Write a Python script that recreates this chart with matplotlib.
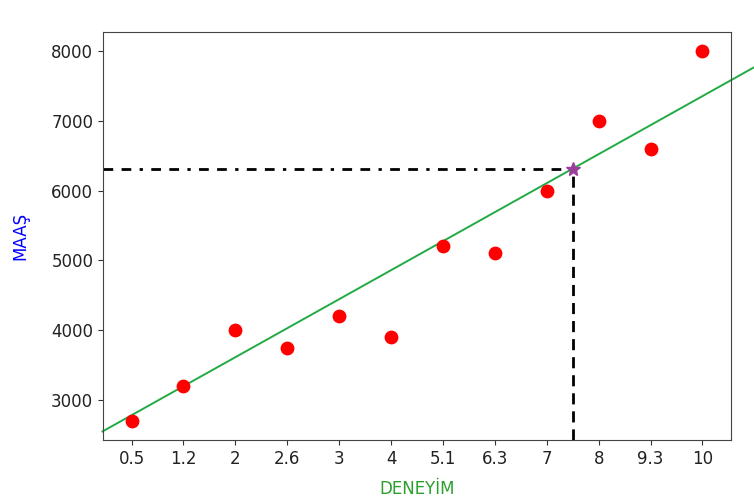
import numpy as np
import matplotlib
matplotlib.use("Agg")
import matplotlib.pyplot as plt

# deneyim (yil) ve maas degerleri
deneyim = ["0.5", "1.2", "2", "2.6", "3", "4", "5.1", "6.3", "7", "8", "9.3", "10"]
maas = [2700, 3200, 4000, 3750, 4200, 3900, 5200, 5100, 6000, 7000, 6600, 8000]

# regresyon dogrusu
reg_intercept = 2789
reg_slope = 414.5
line_x = [-0.56, 12.6]

# tahmin noktasi
tahmin_x = 8.5
tahmin_y = 6312

fig = plt.figure(figsize=(7.54, 5.04), dpi=100)
ax = fig.add_axes([103 / 754, 64 / 504, 628 / 754, 408 / 504])

idx = np.arange(len(deneyim))
ax.scatter(idx, maas, s=80, color="red", zorder=3)

lx = np.array(line_x)
ax.plot(lx, reg_intercept + reg_slope * lx, color="#22aa44", lw=1.4,
        clip_on=False, zorder=2)

ax.set_xlim(-0.55, 11.55)
ax.set_ylim(2435, 8265)

# kesikli yardimci cizgiler
ax.plot([-0.55, tahmin_x], [tahmin_y, tahmin_y], color="k", ls=(0, (3.5, 3, 3.5, 3, 1.2, 3)), lw=2, zorder=2)
ax.plot([tahmin_x, tahmin_x], [2435, tahmin_y], color="k", ls=(0, (4, 2.5)), lw=2, zorder=2)

ax.plot(tahmin_x, tahmin_y, marker="*", markersize=10, color="#9b3d9b", zorder=4)

ax.set_xticks(idx)
ax.set_xticklabels(deneyim)
ax.set_yticks([3000, 4000, 5000, 6000, 7000, 8000])
ax.tick_params(labelsize=12, colors="#333333", labelcolor="#222222")
for s in ax.spines.values():
    s.set_color("#444444")

ax.set_xlabel("DENEYİM", color="#2ca02c", fontsize=12, labelpad=9)
ax.set_ylabel("MAAŞ", color="blue", fontsize=12, labelpad=16)

fig.savefig("out.png", dpi=100)
